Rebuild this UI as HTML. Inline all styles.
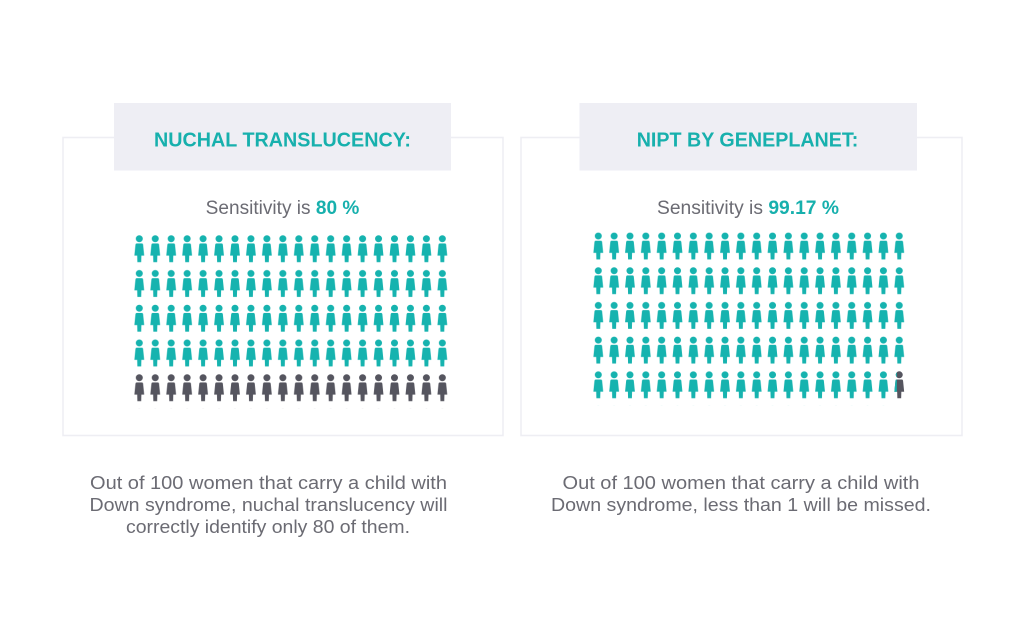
<!DOCTYPE html>
<html>
<head>
<meta charset="utf-8">
<style>
  html, body { margin:0; padding:0; background:#ffffff; }
  body { width:1024px; height:640px; overflow:hidden; }
  svg { display:block; }
  text { font-family: "Liberation Sans", Arial, sans-serif; }
</style>
</head>
<body>
<svg width="1024" height="640" viewBox="0 0 1024 640" xmlns="http://www.w3.org/2000/svg">
  <defs>
    <path id="figshape" d="M-3.5,3.7 A3.5,3.5 0 1 0 3.5,3.7 A3.5,3.5 0 1 0 -3.5,3.7 Z M-2.6,8.4 Q-3.6,8.4 -3.8,9.6 L-4.9,20.6 L-2.1,20.6 L-1.9,27.2 L1.9,27.2 L2.1,20.6 L4.9,20.6 L3.8,9.6 Q3.6,8.4 2.6,8.4 Z"/>
    <pattern id="pLt" patternUnits="userSpaceOnUse" x="131.32" y="235" width="15.95" height="34.75">
      <use href="#figshape" x="7.975" y="0" fill="#16b3af"/>
    </pattern>
    <pattern id="pLg" patternUnits="userSpaceOnUse" x="131.32" y="235" width="15.95" height="34.75">
      <use href="#figshape" x="7.975" y="0" fill="#55555f"/>
    </pattern>
    <pattern id="pRt" patternUnits="userSpaceOnUse" x="590.38" y="232.3" width="15.84" height="34.7">
      <use href="#figshape" x="7.92" y="0" fill="#16b3af"/>
    </pattern>
    <clipPath id="tealSliver">
      <rect x="890" y="370" width="6.8" height="30"/>
    </clipPath>
  </defs>

  <rect x="63" y="137.5" width="440" height="298" fill="#ffffff" stroke="#eeeef3" stroke-width="1.6"/>
  <rect x="521" y="137.5" width="441" height="298" fill="#ffffff" stroke="#eeeef3" stroke-width="1.6"/>

  <rect x="114" y="103" width="337" height="67.5" fill="#eeeef4"/>
  <rect x="579.5" y="103" width="337.5" height="67.5" fill="#eeeef4"/>

  <text x="282.5" y="146.5" text-anchor="middle" font-size="20" font-weight="bold" fill="#17b0ad" textLength="257" lengthAdjust="spacingAndGlyphs">NUCHAL TRANSLUCENCY:</text>
  <text x="747.5" y="146.5" text-anchor="middle" font-size="20" font-weight="bold" fill="#17b0ad" textLength="221.6" lengthAdjust="spacingAndGlyphs">NIPT BY GENEPLANET:</text>

  <text x="282.5" y="214" text-anchor="middle" font-size="19" fill="#6b6b73" textLength="153.6" lengthAdjust="spacingAndGlyphs">Sensitivity is <tspan font-weight="bold" fill="#17b0ad">80 %</tspan></text>
  <text x="748" y="214" text-anchor="middle" font-size="19" fill="#6b6b73" textLength="182" lengthAdjust="spacingAndGlyphs">Sensitivity is <tspan font-weight="bold" fill="#17b0ad">99.17 %</tspan></text>

  <rect x="131.32" y="235" width="319" height="139" fill="url(#pLt)"/>
  <rect x="131.32" y="374" width="319" height="34.75" fill="url(#pLg)"/>

  <rect x="590.38" y="232.3" width="316.8" height="138.8" fill="url(#pRt)"/>
  <rect x="590.38" y="371.1" width="300.96" height="34.7" fill="url(#pRt)"/>

  <use href="#figshape" x="899.26" y="371.1" fill="#55555f"/>
  <g clip-path="url(#tealSliver)">
    <use href="#figshape" x="899.26" y="371.1" fill="#16b3af"/>
  </g>

  <g font-size="18.5" fill="#6b6b73" text-anchor="middle">
    <text x="268.5" y="489" textLength="357" lengthAdjust="spacingAndGlyphs">Out of 100 women that carry a child with</text>
    <text x="268.5" y="511" textLength="358" lengthAdjust="spacingAndGlyphs">Down syndrome, nuchal translucency will</text>
    <text x="268" y="533" textLength="284" lengthAdjust="spacingAndGlyphs">correctly identify only 80 of them.</text>
    <text x="741" y="489" textLength="357" lengthAdjust="spacingAndGlyphs">Out of 100 women that carry a child with</text>
    <text x="741" y="511" textLength="380" lengthAdjust="spacingAndGlyphs">Down syndrome, less than 1 will be missed.</text>
  </g>
</svg>
</body>
</html>
